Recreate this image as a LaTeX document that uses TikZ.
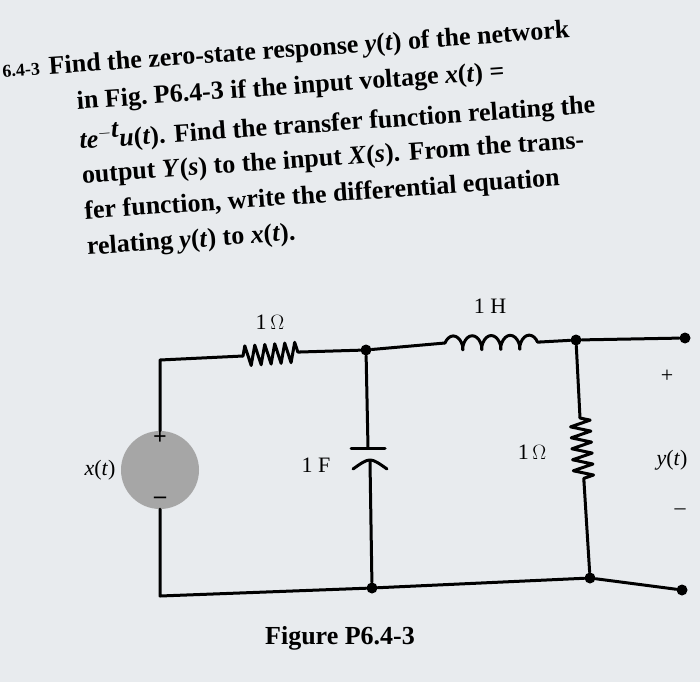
\documentclass[tikz,border=0pt]{standalone}
\usepackage{fontspec}
\setmainfont{Liberation Serif}
\usetikzlibrary{decorations.pathmorphing,calc}
\newcommand{\vi}[1]{\textit{#1}}
\begin{document}
\begin{tikzpicture}[x=1pt,y=-1pt,
  wire/.style={line width=3pt,line cap=round,line join=round},
  dot/.style={circle,fill=black,inner sep=0pt,minimum size=11pt},
  txt/.style={anchor=west,inner sep=0pt,font=\fontsize{26}{30}\selectfont\bfseries},
  lbl/.style={inner sep=0pt,font=\fontsize{22}{24}\selectfont}]
\fill[fill={rgb,255:red,232;green,235;blue,238}] (0,0) rectangle (700,682);
\useasboundingbox (0,0) rectangle (700,682);
% problem text
\begin{scope}[rotate around={4:(80,150)},transform shape]
\node[txt] (l1) at (8,66) {\fontsize{18}{20}\selectfont 6.4-3\ \ \fontsize{26}{30}\selectfont Find the zero-state response \vi{y}(\vi{t}) of the network};
\node[txt] (l2) at (80,103) {in Fig.\ P6.4-3 if the input voltage \vi{x}(\vi{t}) =};
\node[txt] (l3) at (80,140) {\vi{te}$^{-\vi{t}}$\vi{u}(\vi{t}). Find the transfer function relating the};
\node[txt] (l4) at (80,177) {output \vi{Y}(\vi{s}) to the input \vi{X}(\vi{s}). From the trans-};
\node[txt] (l5) at (80,213) {fer function, write the differential equation};
\node[txt] (l6) at (80,249) {relating \vi{y}(\vi{t}) to \vi{x}(\vi{t}).};
\end{scope}
% nodes
\coordinate (tl) at (160,360);
\coordinate (r1a) at (243,356);
\coordinate (r1b) at (300,352);
\node[dot] (n1) at (366,350) {};
\coordinate (la) at (445,343);
\coordinate (lb) at (540,342);
\node[dot] (n2) at (576,340) {};
\node[dot] (tp) at (685,338) {};
\node[dot] (b1) at (372,588) {};
\node[dot] (b2) at (590,578) {};
\node[dot] (tm) at (682,590) {};
\coordinate (bl) at (160,596);
\node[circle,fill=gray!70,minimum size=78pt,inner sep=0pt] (src) at (160,470) {};
\node[font=\bfseries\fontsize{24}{24}\selectfont] (sp) at (160,438) {+};
\node[font=\bfseries\fontsize{24}{24}\selectfont] (sm) at (160,500) {--};
% wires
\draw[wire] (src.north) -- (tl) -- (r1a);
\draw[wire,decorate,decoration={zigzag,segment length=10pt,amplitude=10pt}] (r1a) -- (r1b);
\draw[wire] (r1b) -- (n1) -- (la);
\draw[wire,decorate,decoration={coil,aspect=0.5,segment length=19pt,amplitude=7pt}] (la) -- (lb);
\draw[wire] (lb) -- (n2) -- (tp);
\draw[wire] (src.south) -- (bl) -- (b1) -- (b2) -- (tm);
% capacitor
\coordinate (c1) at (368,448); \coordinate (c2) at (370,462);
\draw[wire] (n1) -- (c1);
\draw[wire] ($(c1)+(-17,0)$) -- ($(c1)+(17,0)$);
\draw[wire] (c2) -- (b1);
\draw[wire] ($(c2)+(-17,7)$) .. controls ($(c2)+(0,-5)$) .. ($(c2)+(17,7)$);
% vertical resistor
\coordinate (r2a) at (580,418); \coordinate (r2b) at (584,482);
\draw[wire] (n2) -- (r2a);
\draw[wire,decorate,decoration={zigzag,segment length=11pt,amplitude=10pt}] (r2a) -- (r2b);
\draw[wire] (r2b) -- (b2);
% labels
\node[lbl] at (270,322) {1\,$\Omega$};
\node[lbl] at (490,306) {1 H};
\node[lbl] at (316,465) {1 F};
\node[lbl] at (532,452) {1\,$\Omega$};
\node[lbl] at (100,470) {\vi{x}(\vi{t})};
\node[lbl] at (667,376) {+};
\node[lbl] at (672,460) {\vi{y}(\vi{t})};
\node[lbl] at (680,512) {--};
\node[font=\bfseries\fontsize{26}{28}\selectfont] at (340,638) {Figure P6.4-3};
\end{tikzpicture}
\end{document}
